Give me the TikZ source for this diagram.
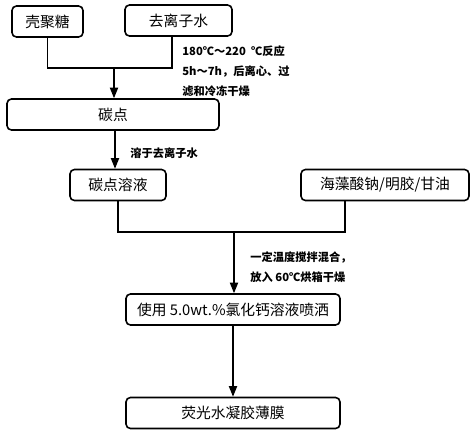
\documentclass[tikz,border=0pt]{standalone}
\usepackage{fontspec}
\newfontfamily\cjk{Noto Sans CJK SC}
\usetikzlibrary{arrows.meta}
\tikzset{
    stepbox/.style={draw, rounded corners=2.5pt, line width=0.9pt, inner sep=0pt,
        minimum height=0.62cm, font=\cjk\fontsize{8.4}{10}\selectfont},
    flow/.style={line width=0.9pt},
    flowarrow/.style={flow, -{Triangle[length=6pt,width=4.6pt]}},
    note/.style={anchor=west, inner sep=0pt, align=left,
        font=\cjk\bfseries\fontsize{6.4}{11.4}\selectfont}
}
\begin{document}
\begin{tikzpicture}[x=0.02cm, y=-0.02cm]
    \useasboundingbox (0,0) rectangle (474,434);
    % boxes
    \node[stepbox, minimum width=1.42cm] (chitosan) at (47.5,21.5) {壳聚糖};
    \node[stepbox, minimum width=2.14cm] (water) at (178.5,20.5) {去离子水};
    \node[stepbox, minimum width=4.24cm] (cdots) at (113,114.5) {碳点};
    \node[stepbox, minimum width=1.92cm] (cdsol) at (118,185) {碳点溶液};
    \node[stepbox, minimum width=3.36cm] (matrix) at (385,185) {海藻酸钠/明胶/甘油};
    \node[stepbox, minimum width=4.28cm] (spray) at (233,309.5) {使用 5.0wt.\%氯化钙溶液喷洒};
    \node[stepbox, minimum width=4.28cm] (film) at (233,413) {荧光水凝胶薄膜};
    % junctions
    \coordinate (j1) at (114,68);
    \coordinate (j2) at (234,232);
    % connectors
    \draw[flow] (chitosan.south) |- (j1) -| ([xshift=-0.13cm]water.south);
    \draw[flowarrow] (j1) -- (j1 |- cdots.north);
    \draw[flowarrow] ([xshift=0.04cm]cdots.south) -- ([xshift=0.04cm]cdots.south |- cdsol.north);
    \draw[flow] (cdsol.south) |- (j2) -| ([xshift=-0.8cm]matrix.south);
    \draw[flowarrow] (j2) -- (j2 |- spray.north);
    \draw[flowarrow] (spray.south) -- (film.north);
    % step notes
    \node[note] (n1) at (182,71) {180℃～220\ \ ℃反应\\5h～7h，后离心、过\\滤和冷冻干燥};
    \node[note] (n2) at (130,153) {溶于去离子水};
    \node[note] (n3) at (250,267) {一定温度搅拌混合，\\放入 60℃烘箱干燥};
\end{tikzpicture}
\end{document}
